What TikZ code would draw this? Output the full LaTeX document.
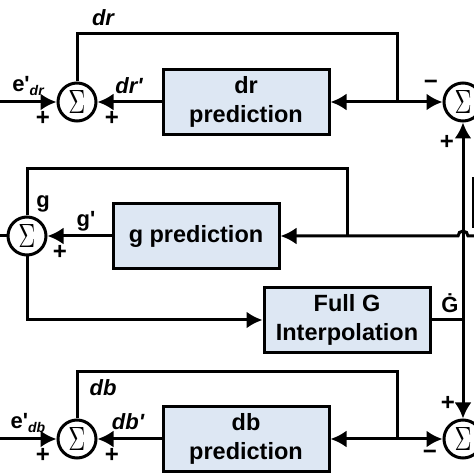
\documentclass[tikz,border=0pt]{standalone}
\usepackage{fontspec}
\usepackage{graphicx}
\newfontfamily\arialfont{Liberation Sans}
\usetikzlibrary{arrows.meta}
\definecolor{boxblue}{RGB}{221,231,243}
\newcommand{\sumsign}{\resizebox{17pt}{23pt}{$\Sigma$}}
\begin{document}
\begin{tikzpicture}[x=1pt, y=1pt, line width=3pt, >={Latex[length=16pt,width=17pt]},
  sum node/.style={circle,draw,minimum size=38pt,inner sep=0pt},
  pred box/.style={rectangle,draw,fill=boxblue,minimum width=166pt,minimum height=65pt,inner sep=0pt,align=center,font=\arialfont\fontsize{23.5}{29}\selectfont\bfseries},
  sign/.style={font=\arialfont\fontsize{24}{24}\selectfont\bfseries,inner sep=0pt},
  lbl/.style={font=\arialfont\fontsize{22}{22}\selectfont\bfseries,inner sep=0pt},
  ilbl/.style={lbl,font=\arialfont\fontsize{22}{22}\selectfont\bfseries\itshape}]
\useasboundingbox (0,0) rectangle (474,474);
\begin{scope}
\node[sum node] (sdr) at (77,372) {\sumsign};
\node[sum node] (sg) at (27,238) {\sumsign};
\node[sum node] (sdb) at (77,35) {\sumsign};
\node[sum node] (sr) at (463,372) {\sumsign};
\node[sum node] (sb) at (463,35) {\sumsign};
\node[pred box] (pdr) at (246,372) {dr\\prediction};
\node[pred box] (pg) at (196,238) {g prediction};
\node[pred box] (fullg) at (347,154) {Full G\\Interpolation};
\node[pred box] (pdb) at (246,35) {db\\prediction};
\node[pred box, minimum width=60pt, minimum height=48pt, anchor=west] (cut) at (471.5,271.5) {};
%\node[sum node] () at (,) {};
\end{scope}
\begin{scope}
\coordinate (edr) at (0,372);
\coordinate (jdr) at (397,372);
\coordinate (tdr) at (397,440);
\coordinate (edb) at (0,35);
\coordinate (jdb) at (397,35);
\coordinate (tdb) at (397,102);
\coordinate (jg) at (347,238);
\coordinate (tg) at (347,305);
\coordinate (gin) at (474,238);
\coordinate (gout) at (0,238);
\coordinate (jG) at (463,154);
\end{scope}
\begin{scope}
\draw[->] (edr) -- (sdr);
\draw[->] (pdr) -- (sdr);
\draw (sdr) |- (tdr) -- (jdr);
\draw[->] (jdr) -- (pdr);
\draw[->] (jdr) -- (sr);
\draw (sg) |- (tg) -- (jg);
\draw[->] (gin) -- (468,238) arc (0:180:5) -- (pg);
\draw[->] (pg) -- (sg);
\draw (sg) -- (gout);
\draw[->] (sg) |- (fullg);
\draw (fullg) -- (jG);
\draw[->] (jG) -- (sr);
\draw[->] (jG) -- (sb);
\draw[->] (edb) -- (sdb);
\draw[->] (pdb) -- (sdb);
\draw (sdb) |- (tdb) -- (jdb);
\draw[->] (jdb) -- (pdb);
\draw[->] (jdb) -- (sb);
\end{scope}
\begin{scope}
\node[ilbl] (ldr) at (103,456) {dr};
\node[ilbl] (ldrp) at (129,388) {dr\textquotesingle};
\node[lbl] (ledr) at (28,388) {e\textquotesingle\raisebox{-4pt}{\fontsize{14}{14}\selectfont\itshape dr}};
\node[lbl] (lg) at (43,270) {g};
\node[lbl] (lgp) at (86,253) {g\textquotesingle};
\node[lbl] (lG) at (450,171) {Ġ};
\node[ilbl] (ldb) at (103,86) {db};
\node[ilbl] (ldbp) at (128,52) {db\textquotesingle};
\node[lbl] (ledb) at (28,51) {e\textquotesingle\raisebox{-4pt}{\fontsize{14}{14}\selectfont\itshape db}};
\node[sign] (s1) at (43,356) {+};
\node[sign] (s2) at (112,356) {+};
\node[sign] (s3) at (431,389) {−};
\node[sign] (s4) at (447,332) {+};
\node[sign] (s5) at (60,222) {+};
\node[sign] (s6) at (43,19) {+};
\node[sign] (s7) at (112,19) {+};
\node[sign] (s8) at (448,71) {+};
\node[sign] (s9) at (430,19) {−};
\end{scope}
\end{tikzpicture}
\end{document}
